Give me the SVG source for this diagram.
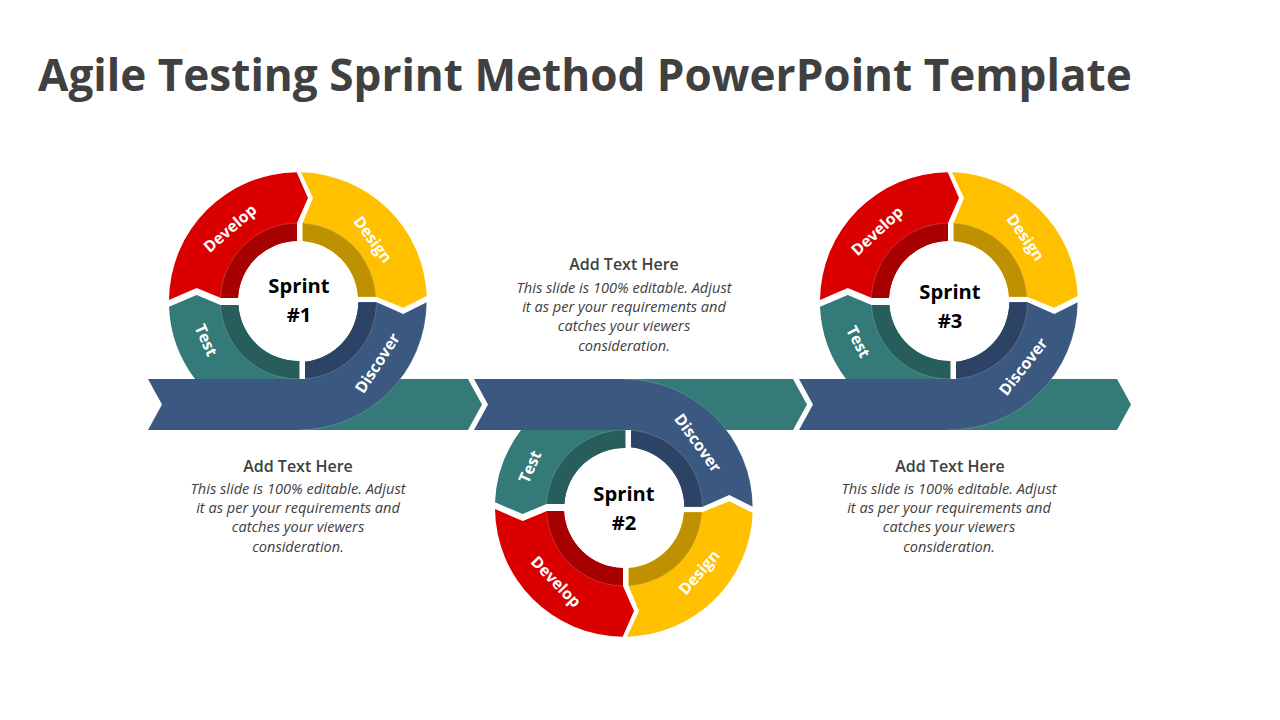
<svg xmlns="http://www.w3.org/2000/svg" width="1280" height="720" viewBox="0 0 1280 720">
<style>
.r{fill:#DA0000}.rd{fill:#A60000}.y{fill:#FFC000}.yd{fill:#BF9000}.b{fill:#3B5880}.bd{fill:#2C4366}.t{fill:#337A78}.td{fill:#275D5B}
.e{fill:none;stroke:#fff;stroke-opacity:.3;stroke-width:.6}
text{font-family:"Open Sans","Liberation Sans",sans-serif}
.title{font-size:44.1px;font-weight:700;fill:#404040}
.lbl{font-size:15.8px;font-weight:700;fill:#fff;text-anchor:middle}
.sp{font-size:20.2px;font-weight:700;fill:#000;text-anchor:middle}
.h{font-size:16px;font-weight:600;fill:#404040;text-anchor:middle}
.p{font-size:14.6px;font-style:italic;fill:#404040;text-anchor:middle}
</style>
<defs>
<path id="tb" d="M290 379H468L482 404.500L468 430H290Z"/>
<path id="bb" d="M148 379H305V361.700A60 60 0 0 0 358.300 302.300H376.700L403.300 314L426.700 302.300A129 129 0 0 1 298 430H148L162 404.500Z"/>
<path id="bbd" d="M305 379V361.700A60 60 0 0 0 358.300 302.300H376.700A78 78 0 0 1 305 379Z"/>
<path id="dv" d="M169 300A129 129 0 0 1 296.700 172.300L308 198L297 223V241A60 60 0 0 0 238 298H221L196.700 288Z"/>
<path id="dvd" d="M297 223V241A60 60 0 0 0 238 298H220.500A78 78 0 0 1 297 223Z"/>
<path id="de" d="M301 172.300A129 129 0 0 1 426.700 296L403.300 307.700L376 296.700H358A60 60 0 0 0 302.700 241V223L313 198Z"/>
<path id="ded" d="M302.700 223A78 78 0 0 1 376 296.700H358A60 60 0 0 0 302.700 241Z"/>
<path id="te" d="M169 306.700L196.700 295L220.500 305H238.400A60 60 0 0 0 299.300 361V379H195A129 129 0 0 1 169 306.700Z"/>
<path id="ted" d="M220.500 305H238.400A60 60 0 0 0 299.300 361V379A78 78 0 0 1 220.500 305Z"/>
<path id="ee" d="M297 223A78 78 0 0 0 220.500 298M302.700 223A78 78 0 0 1 376 296.700M376.700 302.300A78 78 0 0 1 305 379M220.500 305A78 78 0 0 0 299.300 379M426.700 302.300A129 129 0 0 1 298 430"/>
<g id="ring">
<use href="#te" class="t"/><use href="#ted" class="td"/>
<use href="#dv" class="r"/><use href="#dvd" class="rd"/>
<use href="#de" class="y"/><use href="#ded" class="yd"/>
<use href="#bb" class="b"/><use href="#bbd" class="bd"/>
<use href="#ee" class="e"/>
</g>
</defs>
<text class="title" x="38" y="91">Agile Testing Sprint Method PowerPoint Template</text>
<g id="connectors">
<use href="#tb" class="t"/><use href="#tb" class="t" x="325"/><use href="#tb" class="t" x="649"/>
</g>
<g id="sprint1">
<use href="#ring"/>
<text class="lbl" transform="translate(233.600 232.500) rotate(-41)">Develop</text>
<text class="lbl" transform="translate(368.400 242.700) rotate(54)">Design</text>
<text class="lbl" transform="translate(201 342.300) rotate(66)">Test</text>
<text class="lbl" transform="translate(382 366.200) rotate(-57)">Discover</text>
<text class="sp" x="299" y="293">Sprint</text><text class="sp" x="299" y="322">#1</text>
</g>
<g id="sprint2">
<use href="#ring" transform="translate(326 809) scale(1 -1)"/>
<text class="lbl" transform="translate(552 585.500) rotate(46)">Develop</text>
<text class="lbl" transform="translate(703.400 576) rotate(-49)">Design</text>
<text class="lbl" transform="translate(535 469) rotate(-66)">Test</text>
<text class="lbl" transform="translate(693.400 446.100) rotate(54)">Discover</text>
<text class="sp" x="624" y="501">Sprint</text><text class="sp" x="624" y="530">#2</text>
</g>
<g id="sprint3">
<use href="#ring" transform="translate(651 0)"/>
<text class="lbl" transform="translate(881 235) rotate(-43)">Develop</text>
<text class="lbl" transform="translate(1021 240.500) rotate(55)">Design</text>
<text class="lbl" transform="translate(853.300 344.300) rotate(63)">Test</text>
<text class="lbl" transform="translate(1027.500 370) rotate(-52)">Discover</text>
<text class="sp" x="950" y="299">Sprint</text><text class="sp" x="950" y="328">#3</text>
</g>
<g id="note1">
<text class="h" x="298" y="472">Add Text Here</text>
<text class="p" x="298" y="494">This slide is 100% editable. Adjust</text>
<text class="p" x="298" y="513">it as per your requirements and</text>
<text class="p" x="298" y="532">catches your viewers</text>
<text class="p" x="298" y="552">consideration.</text>
</g>
<g id="note2">
<text class="h" x="624" y="270">Add Text Here</text>
<text class="p" x="624" y="293">This slide is 100% editable. Adjust</text>
<text class="p" x="624" y="312">it as per your requirements and</text>
<text class="p" x="624" y="331">catches your viewers</text>
<text class="p" x="624" y="351">consideration.</text>
</g>
<g id="note3">
<text class="h" x="950" y="472">Add Text Here</text>
<text class="p" x="949" y="494">This slide is 100% editable. Adjust</text>
<text class="p" x="949" y="513">it as per your requirements and</text>
<text class="p" x="949" y="532">catches your viewers</text>
<text class="p" x="949" y="552">consideration.</text>
</g>
</svg>
